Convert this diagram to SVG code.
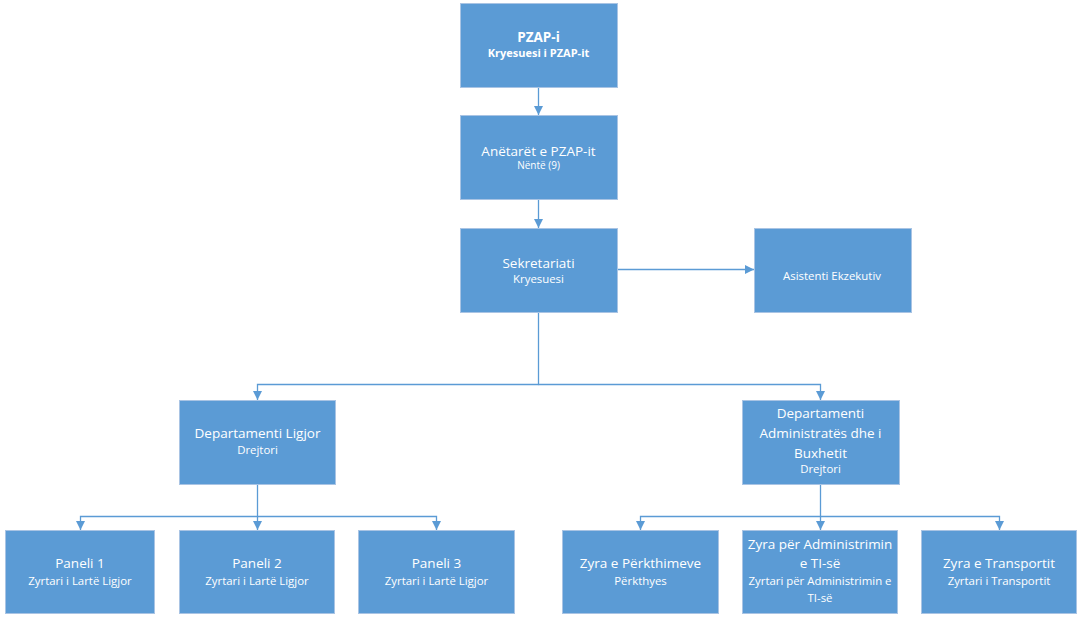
<svg xmlns="http://www.w3.org/2000/svg" width="1085" height="623" viewBox="0 0 1085 623">
<style>
.box{fill:#5b9bd5;stroke:#a9c4e4;stroke-width:1}
.t{font-family:"Open Sans","Noto Sans",sans-serif;fill:#ffffff;text-anchor:middle;font-size:13.5px}
.s{font-family:"Open Sans","Noto Sans",sans-serif;fill:#ffffff;text-anchor:middle;font-size:11.4px}
.b{font-weight:bold}
.c{fill:none;stroke:#5b9bd5;stroke-width:1.3}
</style>
<defs>
<marker id="ah" viewBox="0 0 10 10" refX="10" refY="5" markerWidth="9" markerHeight="9" markerUnits="userSpaceOnUse" orient="auto">
<path d="M0,0 L10,5 L0,10 z" fill="#5b9bd5"/>
</marker>
</defs>
<rect width="1085" height="623" fill="#ffffff"/>
<g id="connectors">
<path class="c" d="M538.5,87 V115" marker-end="url(#ah)"/>
<path class="c" d="M538.5,199 V228" marker-end="url(#ah)"/>
<path class="c" d="M617,269.5 H754" marker-end="url(#ah)"/>
<path class="c" d="M538.5,312 V384.5 H257.5 V400" marker-end="url(#ah)"/>
<path class="c" d="M538.5,384.5 H820.5 V400" marker-end="url(#ah)"/>
<path class="c" d="M257.5,484 V516.5 H80.5 V530" marker-end="url(#ah)"/>
<path class="c" d="M257.5,516.5 V530" marker-end="url(#ah)"/>
<path class="c" d="M257.5,516.5 H436.5 V530" marker-end="url(#ah)"/>
<path class="c" d="M820.5,484 V516.5 H640.5 V530" marker-end="url(#ah)"/>
<path class="c" d="M820.5,516.5 V530" marker-end="url(#ah)"/>
<path class="c" d="M820.5,516.5 H999.5 V530" marker-end="url(#ah)"/>
</g>
<g id="n1">
<rect class="box" x="460.5" y="3.5" width="157" height="84"/>
<text class="t b" x="538.5" y="42">PZAP-i</text>
<text class="s b" x="538.5" y="57" style="font-size:11px">Kryesuesi i PZAP-it</text>
</g>
<g id="n2">
<rect class="box" x="460.5" y="115.5" width="157" height="84"/>
<text class="t" x="538.5" y="156">Anëtarët e PZAP-it</text>
<text class="s" x="538.5" y="169" style="font-size:10px">Nëntë (9)</text>
</g>
<g id="n3">
<rect class="box" x="460.5" y="228.5" width="157" height="84"/>
<text class="t" x="538.5" y="268">Sekretariati</text>
<text class="s" x="538.5" y="283">Kryesuesi</text>
</g>
<g id="n4">
<rect class="box" x="754.5" y="228.5" width="157" height="84"/>
<text class="s" x="832" y="280">Asistenti Ekzekutiv</text>
</g>
<g id="n5">
<rect class="box" x="179.5" y="400.5" width="156" height="84"/>
<text class="t" x="257.5" y="438">Departamenti Ligjor</text>
<text class="s" x="257.5" y="454">Drejtori</text>
</g>
<g id="n6">
<rect class="box" x="742.5" y="400.5" width="157" height="84"/>
<text class="t" x="820.5" y="418">Departamenti</text>
<text class="t" x="820.5" y="438">Administratës dhe i</text>
<text class="t" x="820.5" y="458">Buxhetit</text>
<text class="s" x="820.5" y="473">Drejtori</text>
</g>
<g id="n7">
<rect class="box" x="5.5" y="530.5" width="149" height="83"/>
<text class="t" x="80" y="568">Paneli 1</text>
<text class="s" x="80" y="585">Zyrtari i Lartë Ligjor</text>
</g>
<g id="n8">
<rect class="box" x="179.5" y="530.5" width="155" height="83"/>
<text class="t" x="257" y="568">Paneli 2</text>
<text class="s" x="257" y="585">Zyrtari i Lartë Ligjor</text>
</g>
<g id="n9">
<rect class="box" x="358.5" y="530.5" width="156" height="83"/>
<text class="t" x="436.5" y="568">Paneli 3</text>
<text class="s" x="436.5" y="585">Zyrtari i Lartë Ligjor</text>
</g>
<g id="n10">
<rect class="box" x="562.5" y="530.5" width="156" height="83"/>
<text class="t" x="640.5" y="568">Zyra e Përkthimeve</text>
<text class="s" x="640.5" y="585">Përkthyes</text>
</g>
<g id="n11">
<rect class="box" x="742.5" y="530.5" width="155" height="83"/>
<text class="t" x="820" y="549">Zyra për Administrimin</text>
<text class="t" x="820" y="568">e TI-së</text>
<text class="s" x="820" y="585">Zyrtari për Administrimin e</text>
<text class="s" x="820" y="602">TI-së</text>
</g>
<g id="n12">
<rect class="box" x="921.5" y="530.5" width="155" height="83"/>
<text class="t" x="999" y="568">Zyra e Transportit</text>
<text class="s" x="999" y="585">Zyrtari i Transportit</text>
</g>
</svg>
